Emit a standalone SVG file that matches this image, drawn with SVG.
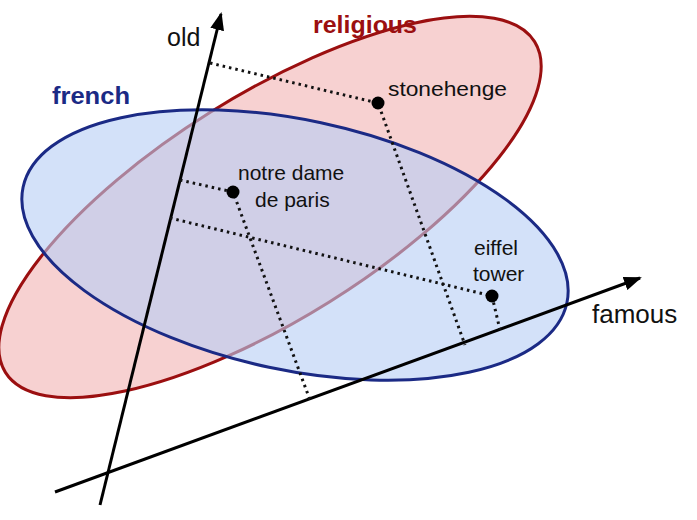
<svg xmlns="http://www.w3.org/2000/svg" width="697" height="520" viewBox="0 0 697 520">
<defs><style>
.t{font-family:"Liberation Sans",Arial,sans-serif;font-size:21px;fill:#111}
.b{font-family:"Liberation Sans Narrow","Liberation Sans",sans-serif;font-weight:bold;font-size:24px}
.d{stroke:#111;stroke-width:3;stroke-dasharray:2.5 4;fill:none}
.ax{stroke:#000;stroke-width:3;fill:none}
</style>
<marker id="ah2" markerWidth="18" markerHeight="14" refX="16" refY="7" orient="auto" markerUnits="userSpaceOnUse" viewBox="0 0 18 14"><path d="M0,0 L18,7 L0,14 z" fill="#000"/></marker>
</defs>
<g id="religious"><ellipse cx="270" cy="207" rx="312" ry="112" transform="rotate(-32 270 207)" fill="#f3b8b8" fill-opacity="0.65" stroke="#9b0f10" stroke-width="3"/></g>
<g id="french"><ellipse cx="295" cy="245" rx="278" ry="125" transform="rotate(12 295 245)" fill="#b5cdf5" fill-opacity="0.6" stroke="#1b2a85" stroke-width="3"/></g>
<g id="connectors">
<line class="ax" x1="100" y1="505" x2="221" y2="14" marker-end="url(#ah2)"/>
<line class="ax" x1="55" y1="492" x2="640" y2="278" marker-end="url(#ah2)"/>
<path class="d" d="M210,63 L378,103 L465,345"/>
<path class="d" d="M180,180 L233,192 L310,400"/>
<path class="d" d="M170,218 L492,296 L500,330"/>
</g>
<g id="stonehenge"><circle cx="378" cy="103" r="6.5" fill="#000"/><text class="t" x="388" y="96" textLength="119" lengthAdjust="spacingAndGlyphs">stonehenge</text></g>
<g id="notredame"><circle cx="233" cy="192" r="6.5" fill="#000"/><text class="t" x="238" y="180">notre dame</text><text class="t" x="255" y="207">de paris</text></g>
<g id="eiffel"><circle cx="492" cy="296" r="6.5" fill="#000"/><text class="t" x="474" y="255">eiffel</text><text class="t" x="473" y="281">tower</text></g>
<g id="labels">
<text class="t" x="167" y="46" style="font-size:25px">old</text>
<text class="t" x="592" y="323" style="font-size:26px">famous</text>
<text class="b" x="313" y="33" fill="#9b0f10" textLength="104" lengthAdjust="spacingAndGlyphs">religious</text>
<text class="b" x="52" y="104" fill="#1b2a85" textLength="78" lengthAdjust="spacingAndGlyphs">french</text>
</g>
</svg>
